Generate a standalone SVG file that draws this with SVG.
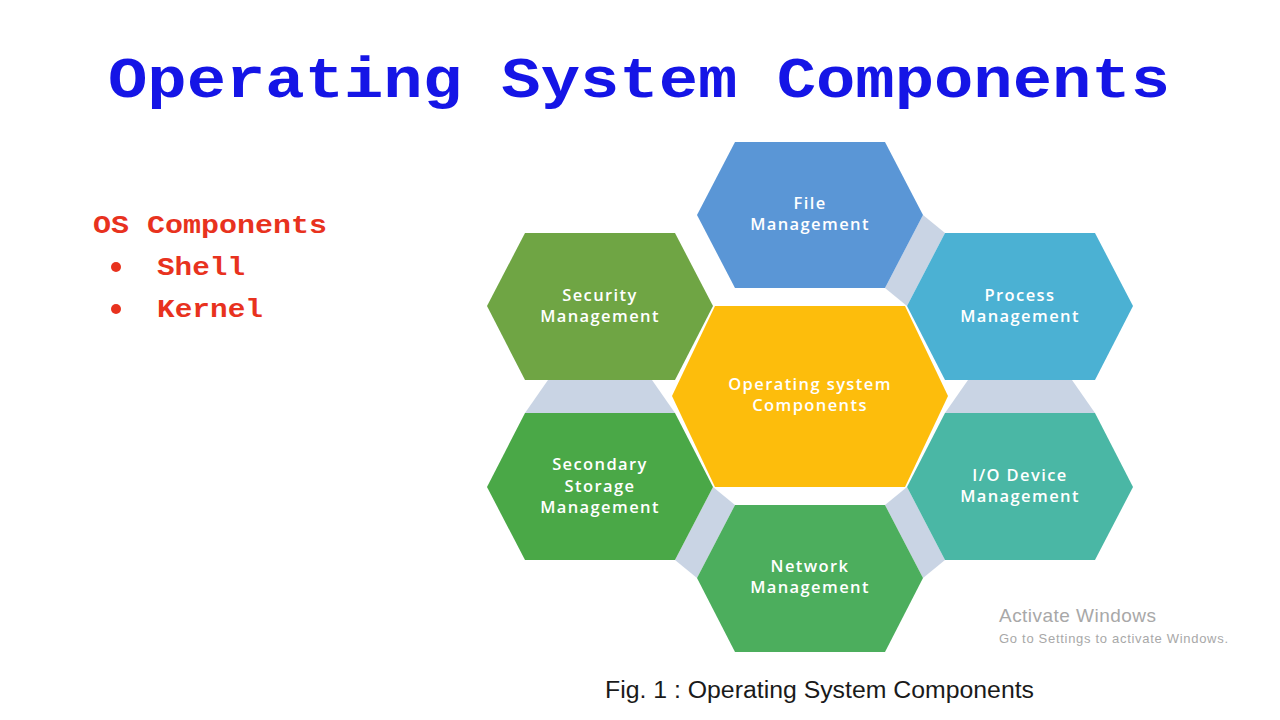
<svg xmlns="http://www.w3.org/2000/svg" width="1280" height="720" viewBox="0 0 1280 720">
<style>
.hl{font-family:"Open Sans","Liberation Sans",sans-serif;font-size:16.5px;font-weight:600;letter-spacing:1.4px;fill:#fff;text-anchor:middle}
.con{fill:#c9d4e4}
.mono{font-family:"Liberation Mono","Courier New",monospace;font-weight:bold}
</style>
<rect width="1280" height="720" fill="#fff"/>
<text x="108" y="97" class="mono" font-size="58" fill="#1515e6" textLength="1062" lengthAdjust="spacingAndGlyphs">Operating System Components</text>
<text x="93" y="233" class="mono" font-size="26" fill="#e8321e" textLength="234" lengthAdjust="spacingAndGlyphs">OS Components</text>
<circle cx="116" cy="267" r="5" fill="#e8321e"/>
<text x="157" y="275" class="mono" font-size="26" fill="#e8321e" textLength="88" lengthAdjust="spacingAndGlyphs">Shell</text>
<circle cx="116" cy="309" r="5" fill="#e8321e"/>
<text x="157" y="317" class="mono" font-size="26" fill="#e8321e" textLength="106" lengthAdjust="spacingAndGlyphs">Kernel</text>
<g id="connectors">
<polygon class="con" points="923,215 945,233 907,306 885,288"/>
<polygon class="con" points="548,380 652,380 675,413 525,413"/>
<polygon class="con" points="968,380 1072,380 1095,413 945,413"/>
<polygon class="con" points="713,487 735,505 697,578 675,560"/>
<polygon class="con" points="885,505 907,487 945,560 923,578"/>
</g>
<g id="file"><polygon fill="#5a96d6" points="735,142 885,142 923,215 885,288 735,288 697,215"/><text class="hl" x="810" y="209">File</text><text class="hl" x="810" y="230">Management</text></g>
<g id="process"><polygon fill="#4bb1d3" points="945,233 1095,233 1133,306 1095,380 945,380 907,306"/><text class="hl" x="1020" y="301">Process</text><text class="hl" x="1020" y="322">Management</text></g>
<g id="io"><polygon fill="#4ab7a5" points="945,413 1095,413 1133,487 1095,560 945,560 907,487"/><text class="hl" x="1020" y="481">I/O Device</text><text class="hl" x="1020" y="502">Management</text></g>
<g id="network"><polygon fill="#4cae5d" points="735,505 885,505 923,578 885,652 735,652 697,578"/><text class="hl" x="810" y="572">Network</text><text class="hl" x="810" y="593">Management</text></g>
<g id="secondary"><polygon fill="#4aa847" points="525,413 675,413 713,487 675,560 525,560 487,487"/><text class="hl" x="600" y="470">Secondary</text><text class="hl" x="600" y="492">Storage</text><text class="hl" x="600" y="513">Management</text></g>
<g id="security"><polygon fill="#6fa544" points="525,233 675,233 713,306 675,380 525,380 487,306"/><text class="hl" x="600" y="301">Security</text><text class="hl" x="600" y="322">Management</text></g>
<g id="center"><polygon fill="#fdbd0c" points="715,306 905,306 948,396 905,487 715,487 672,396"/><text class="hl" x="810" y="390">Operating system</text><text class="hl" x="810" y="411">Components</text></g>
<text x="999" y="622" font-family="'Liberation Sans',sans-serif" font-size="19" fill="#a8a8a8" textLength="157">Activate Windows</text>
<text x="999" y="643" font-family="'Liberation Sans',sans-serif" font-size="13" fill="#a8a8a8" textLength="229">Go to Settings to activate Windows.</text>
<text x="605" y="698" font-family="'Liberation Sans',Arial,sans-serif" font-size="23" fill="#1a1a1a" textLength="429" lengthAdjust="spacingAndGlyphs">Fig. 1 : Operating System Components</text>
</svg>
